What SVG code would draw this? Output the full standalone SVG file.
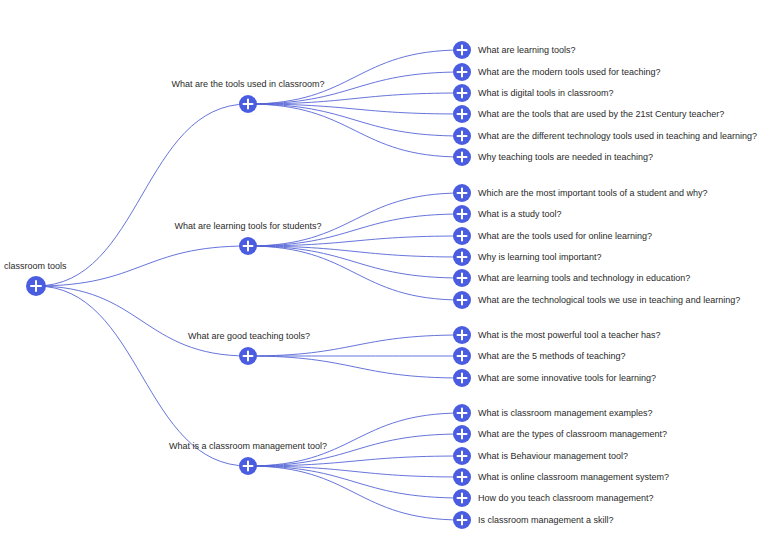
<svg xmlns="http://www.w3.org/2000/svg" width="768" height="536" viewBox="0 0 768 536">
<defs>
<style>
.bg{fill:#ffffff}
.link{fill:none;stroke:#5565d6;stroke-width:1;stroke-opacity:0.9}
.c{fill:#4a5ce0}
.p{stroke:#ffffff;stroke-width:2;stroke-linecap:round}
.t{font-family:"Liberation Sans",Arial,sans-serif;font-size:9px;fill:#2a2a2a}
.m{text-anchor:middle}
</style>
<g id="plus"><circle class="c" r="9"/><path class="p" d="M-4.5 0H4.5M0 -4.5V4.5"/></g>
<g id="plusL"><circle class="c" r="10"/><path class="p" d="M-5 0H5M0 -5V5"/></g>
</defs>
<rect class="bg" width="768" height="536"/>
<g id="connectors">
<path class="link" d="M36 286C142 286 142 104 248 104"/>
<path class="link" d="M36 286C142 286 142 246 248 246"/>
<path class="link" d="M36 286C142 286 142 356 248 356"/>
<path class="link" d="M36 286C142 286 142 466 248 466"/>
<path class="link" d="M248 104C355 104 355 50 462 50"/>
<path class="link" d="M248 104C355 104 355 72 462 72"/>
<path class="link" d="M248 104C355 104 355 93 462 93"/>
<path class="link" d="M248 104C355 104 355 114 462 114"/>
<path class="link" d="M248 104C355 104 355 136 462 136"/>
<path class="link" d="M248 104C355 104 355 157 462 157"/>
<path class="link" d="M248 246C355 246 355 193 462 193"/>
<path class="link" d="M248 246C355 246 355 214 462 214"/>
<path class="link" d="M248 246C355 246 355 236 462 236"/>
<path class="link" d="M248 246C355 246 355 257 462 257"/>
<path class="link" d="M248 246C355 246 355 278 462 278"/>
<path class="link" d="M248 246C355 246 355 300 462 300"/>
<path class="link" d="M248 356C355 356 355 335 462 335"/>
<path class="link" d="M248 356C355 356 355 356 462 356"/>
<path class="link" d="M248 356C355 356 355 378 462 378"/>
<path class="link" d="M248 466C355 466 355 413 462 413"/>
<path class="link" d="M248 466C355 466 355 434 462 434"/>
<path class="link" d="M248 466C355 466 355 456 462 456"/>
<path class="link" d="M248 466C355 466 355 477 462 477"/>
<path class="link" d="M248 466C355 466 355 498 462 498"/>
<path class="link" d="M248 466C355 466 355 520 462 520"/>
</g>
<g id="root"><use href="#plusL" x="36" y="286"/><text class="t" x="4" y="269">classroom tools</text></g>
<g id="n1"><use href="#plus" x="248" y="104"/><text class="t m" x="248" y="87">What are the tools used in classroom?</text></g>
<g id="n2"><use href="#plus" x="248" y="246"/><text class="t m" x="248" y="229">What are learning tools for students?</text></g>
<g id="n3"><use href="#plus" x="248" y="356"/><text class="t m" x="249" y="339">What are good teaching tools?</text></g>
<g id="n4"><use href="#plus" x="248" y="466"/><text class="t m" x="248" y="449">What is a classroom management tool?</text></g>
<g id="l1"><use href="#plus" x="462" y="50"/><text class="t" x="478" y="53">What are learning tools?</text></g>
<g id="l2"><use href="#plus" x="462" y="72"/><text class="t" x="478" y="75">What are the modern tools used for teaching?</text></g>
<g id="l3"><use href="#plus" x="462" y="93"/><text class="t" x="478" y="96">What is digital tools in classroom?</text></g>
<g id="l4"><use href="#plus" x="462" y="114"/><text class="t" x="478" y="117">What are the tools that are used by the 21st Century teacher?</text></g>
<g id="l5"><use href="#plus" x="462" y="136"/><text class="t" x="478" y="139">What are the different technology tools used in teaching and learning?</text></g>
<g id="l6"><use href="#plus" x="462" y="157"/><text class="t" x="478" y="160">Why teaching tools are needed in teaching?</text></g>
<g id="l7"><use href="#plus" x="462" y="193"/><text class="t" x="478" y="196">Which are the most important tools of a student and why?</text></g>
<g id="l8"><use href="#plus" x="462" y="214"/><text class="t" x="478" y="217">What is a study tool?</text></g>
<g id="l9"><use href="#plus" x="462" y="236"/><text class="t" x="478" y="239">What are the tools used for online learning?</text></g>
<g id="l10"><use href="#plus" x="462" y="257"/><text class="t" x="478" y="260">Why is learning tool important?</text></g>
<g id="l11"><use href="#plus" x="462" y="278"/><text class="t" x="478" y="281">What are learning tools and technology in education?</text></g>
<g id="l12"><use href="#plus" x="462" y="300"/><text class="t" x="478" y="303">What are the technological tools we use in teaching and learning?</text></g>
<g id="l13"><use href="#plus" x="462" y="335"/><text class="t" x="478" y="338">What is the most powerful tool a teacher has?</text></g>
<g id="l14"><use href="#plus" x="462" y="356"/><text class="t" x="478" y="359">What are the 5 methods of teaching?</text></g>
<g id="l15"><use href="#plus" x="462" y="378"/><text class="t" x="478" y="381">What are some innovative tools for learning?</text></g>
<g id="l16"><use href="#plus" x="462" y="413"/><text class="t" x="478" y="416">What is classroom management examples?</text></g>
<g id="l17"><use href="#plus" x="462" y="434"/><text class="t" x="478" y="437">What are the types of classroom management?</text></g>
<g id="l18"><use href="#plus" x="462" y="456"/><text class="t" x="478" y="459">What is Behaviour management tool?</text></g>
<g id="l19"><use href="#plus" x="462" y="477"/><text class="t" x="478" y="480">What is online classroom management system?</text></g>
<g id="l20"><use href="#plus" x="462" y="498"/><text class="t" x="478" y="501">How do you teach classroom management?</text></g>
<g id="l21"><use href="#plus" x="462" y="520"/><text class="t" x="478" y="523">Is classroom management a skill?</text></g>
</svg>
